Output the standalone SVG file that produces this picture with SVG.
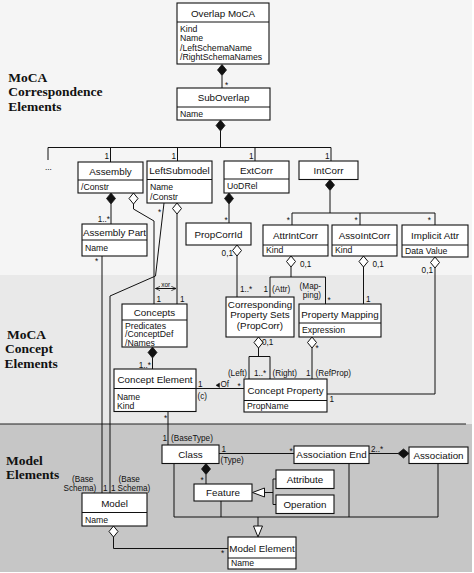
<svg xmlns="http://www.w3.org/2000/svg" width="474" height="573" viewBox="0 0 474 573">
<style>
.box{fill:#fff;stroke:#111;stroke-width:1.1}
.ln{fill:none;stroke:#111;stroke-width:1}
.t{font-family:"Liberation Sans",Arial,sans-serif;font-size:9.8px;fill:#111;text-anchor:middle}
.a{font-family:"Liberation Sans",Arial,sans-serif;font-size:8.7px;fill:#111}
.l{font-family:"Liberation Sans",Arial,sans-serif;font-size:8.2px;fill:#111}
.e{text-anchor:end}
.sec{font-family:"Liberation Serif","Times New Roman",serif;font-size:13.5px;font-weight:bold;fill:#111}
.fd{fill:#111;stroke:#111;stroke-width:0.8}
.hd{fill:#fff;stroke:#111;stroke-width:1}
</style>
<defs>
<marker id="oa" viewBox="0 0 8 8" refX="7.5" refY="4" markerWidth="5" markerHeight="5" orient="auto-start-reverse"><path d="M0,0.5 L7.5,4 L0,7.5" fill="none" stroke="#111" stroke-width="1.2"/></marker>
</defs>
<g id="background">
<rect x="0" y="0" width="474" height="573" fill="#fff"/>
<rect x="0" y="0" width="472" height="275" fill="#f5f5f5"/>
<rect x="0" y="275" width="472" height="149" fill="#e9e9e9"/>
<rect x="0" y="424" width="472" height="148" fill="#c6c6c6"/>
<line x1="0" y1="424" x2="466" y2="424" stroke="#222" stroke-width="1.2"/>
<text class="sec" x="8.3" y="81.5">MoCA</text>
<text class="sec" x="8.3" y="96">Correspondence</text>
<text class="sec" x="8.3" y="110.5">Elements</text>
<text class="sec" x="7" y="339">MoCA</text>
<text class="sec" x="5" y="353.3">Concept</text>
<text class="sec" x="4.5" y="367.6">Elements</text>
<text class="sec" x="6" y="464.5">Model</text>
<text class="sec" x="6" y="479">Elements</text>
</g>
<g id="connectors">
<path class="ln" d="M222,75.5 V88"/>
<path class="fd" d="M222,64.5 l4.5,5.5 l-4.5,5.5 l-4.5,-5.5z"/>
<text class="l" x="225" y="88">*</text>
<path class="ln" d="M220.5,131 V147.5 M48,147.5 H331 M48,147.5 V160 M110.5,147.5 V162 M177.5,147.5 V161 M255,147.5 V161 M331,147.5 V161"/>
<path class="fd" d="M220.5,120 l4.5,5.5 l-4.5,5.5 l-4.5,-5.5z"/>
<text class="l e" x="109" y="158.5">1</text>
<text class="l e" x="176" y="158.5">1</text>
<text class="l e" x="253.5" y="158.5">1</text>
<text class="l e" x="329.5" y="158.5">1</text>
<text class="l" x="45" y="170">...</text>
<path class="ln" d="M111,204 V224"/>
<path class="fd" d="M111,193 l4.5,5.5 l-4.5,5.5 l-4.5,-5.5z"/>
<text class="l e" x="110" y="221.5">1..*</text>
<path class="ln" d="M133.5,204 V209 L154,221 V304"/>
<path class="hd" d="M133.5,193 l4.5,5.5 l-4.5,5.5 l-4.5,-5.5z"/>
<text class="l" x="156.5" y="302">1</text>
<path class="ln" d="M177,214 V304"/>
<path class="hd" d="M177,203 l4.5,5.5 l-4.5,5.5 l-4.5,-5.5z"/>
<text class="l" x="180" y="302">1</text>
<path class="ln" d="M155.5,288.5 H176" marker-start="url(#oa)" marker-end="url(#oa)"/>
<text class="l" x="165.7" y="286.5" style="font-size:6.5px;text-anchor:middle">xor</text>
<path class="ln" d="M164,203 L155.5,276 L110,296 V493"/>
<text class="l" x="158" y="214.5">*</text>
<path class="ln" d="M102,256 V493"/>
<text class="l" x="95" y="263.5">*</text>
<path class="ln" d="M229,204 V223"/>
<path class="fd" d="M229,193 l4.5,5.5 l-4.5,5.5 l-4.5,-5.5z"/>
<text class="l" x="224.5" y="222.5">*</text>
<path class="ln" d="M237,256 V297"/>
<path class="hd" d="M237,245 l4.5,5.5 l-4.5,5.5 l-4.5,-5.5z"/>
<text class="l e" x="233" y="256">0,1</text>
<text class="l" x="240" y="292">1..*</text>
<path class="ln" d="M330,190.5 V213 M292,213 H435 M292,213 V225 M360,213 V225 M435,213 V225"/>
<path class="fd" d="M330,179.5 l4.5,5.5 l-4.5,5.5 l-4.5,-5.5z"/>
<text class="l" x="286.8" y="222.8">*</text>
<text class="l" x="354.5" y="222.8">*</text>
<text class="l" x="427.8" y="222.8">*</text>
<path class="ln" d="M291,267 V277 M270,297 V277 H325.5 V304"/>
<path class="hd" d="M291,256 l4.5,5.5 l-4.5,5.5 l-4.5,-5.5z"/>
<text class="l" x="300" y="266.5">0,1</text>
<text class="l e" x="268" y="292">1</text>
<text class="l" x="272" y="292">(Attr)</text>
<text class="l e" x="321" y="289">(Map-</text>
<text class="l e" x="321" y="297.5">ping)</text>
<text class="l" x="327.5" y="302.5">*</text>
<path class="ln" d="M363.5,267 V304"/>
<path class="hd" d="M363.5,256 l4.5,5.5 l-4.5,5.5 l-4.5,-5.5z"/>
<text class="l" x="372.5" y="266.5">0,1</text>
<text class="l" x="366" y="302">1</text>
<path class="ln" d="M435,268 V394 H327"/>
<path class="hd" d="M435,257 l4.5,5.5 l-4.5,5.5 l-4.5,-5.5z"/>
<text class="l e" x="433" y="273">0,1</text>
<text class="l" x="329.5" y="401.5">1</text>
<path class="ln" d="M258.5,348 V356.5 M249,379 V356.5 H270 V379"/>
<path class="hd" d="M258.5,337 l4.5,5.5 l-4.5,5.5 l-4.5,-5.5z"/>
<text class="l" x="262" y="345">0,1</text>
<text class="l e" x="247" y="375.5">(Left)</text>
<text class="l" x="254" y="375.5">1..*</text>
<text class="l" x="272.5" y="375.5">(Right)</text>
<path class="ln" d="M312,348 V379"/>
<path class="hd" d="M312,337 l4.5,5.5 l-4.5,5.5 l-4.5,-5.5z"/>
<text class="l" x="315.5" y="351">*</text>
<text class="l e" x="310.5" y="376">1</text>
<text class="l" x="315.5" y="376">(RefProp)</text>
<path class="ln" d="M196,388.5 H244"/>
<text class="l" x="198" y="386.5">1</text>
<text class="l" x="197.5" y="398.5">(c)</text>
<path class="fd" d="M216,385.3 l3.5,-2.2 v4.4z" style="stroke-width:0.5"/>
<text class="l" x="220.5" y="387.3">Of</text>
<text class="l" x="237.5" y="389">*</text>
<path class="ln" d="M152.5,358 V369"/>
<path class="fd" d="M152.5,347 l4.5,5.5 l-4.5,5.5 l-4.5,-5.5z"/>
<text class="l e" x="151" y="368">1..*</text>
<path class="ln" d="M168,411.5 V445"/>
<text class="l" x="164" y="420.5">*</text>
<text class="l e" x="167" y="441">1</text>
<text class="l" x="171" y="440.5">(BaseType)</text>
<path class="ln" d="M219,453.5 H294"/>
<text class="l" x="221.5" y="451.5">1</text>
<text class="l" x="220.5" y="463">(Type)</text>
<text class="l" x="289.5" y="454">*</text>
<path class="ln" d="M369,453.5 H398"/>
<path class="fd" d="M398,453.5 l5.5,-4.5 l5.5,4.5 l-5.5,4.5z"/>
<text class="l" x="371" y="451.5">2..*</text>
<path class="ln" d="M206,474.5 V484"/>
<path class="fd" d="M206,463.5 l4.5,5.5 l-4.5,5.5 l-4.5,-5.5z"/>
<text class="l" x="200.5" y="483">*</text>
<path class="ln" d="M264.5,492.5 H273 M276,479 H273 V504.5 H276"/>
<path class="hd" d="M252.5,492.5 L264.5,488 L264.5,497 Z"/>
<path class="ln" d="M174,463.5 V517 H438 V463.5 M221,501 V517 M349,463.5 V517 M258,517 V526"/>
<path class="hd" d="M253.5,526 H262.5 L258,537 Z"/>
<path class="ln" d="M113.5,537 V548.5 H228"/>
<path class="hd" d="M113.5,526 l4.5,5.5 l-4.5,5.5 l-4.5,-5.5z"/>
<text class="l" x="221" y="556">*</text>
<text class="l" x="72" y="482">(Base</text>
<text class="l" x="63.5" y="490.5">Schema)</text>
<text class="l" x="103" y="491">1</text>
<text class="l" x="111" y="491">1</text>
<text class="l" x="118.5" y="482">(Base</text>
<text class="l" x="117.5" y="490.5">Schema)</text>
</g>
<g id="overlap-moca">
<rect class="box" x="177" y="3" width="92" height="61"/>
<line class="ln" x1="177" y1="22" x2="269" y2="22"/>
<text class="t" x="223" y="16.5">Overlap MoCA</text>
<text class="a" x="180" y="31.5">Kind</text>
<text class="a" x="180" y="41">Name</text>
<text class="a" x="180" y="50.5">/LeftSchemaName</text>
<text class="a" x="180" y="60">/RightSchemaNames</text>
</g>
<g id="suboverlap">
<rect class="box" x="177" y="88" width="93" height="32"/>
<line class="ln" x1="177" y1="107" x2="270" y2="107"/>
<text class="t" x="223.5" y="101">SubOverlap</text>
<text class="a" x="180" y="116.5">Name</text>
</g>
<g id="assembly">
<rect class="box" x="78" y="162" width="65" height="31"/>
<line class="ln" x1="78" y1="180" x2="143" y2="180"/>
<text class="t" x="110.5" y="174.5">Assembly</text>
<text class="a" x="81" y="189.5">/Constr</text>
</g>
<g id="leftsubmodel">
<rect class="box" x="147" y="161" width="65" height="42"/>
<line class="ln" x1="147" y1="179.5" x2="212" y2="179.5"/>
<text class="t" x="179.5" y="174">LeftSubmodel</text>
<text class="a" x="150" y="190">Name</text>
<text class="a" x="150" y="199.5">/Constr</text>
</g>
<g id="extcorr">
<rect class="box" x="224" y="161" width="65" height="32"/>
<line class="ln" x1="224" y1="179" x2="289" y2="179"/>
<text class="t" x="256.5" y="173.5">ExtCorr</text>
<text class="a" x="227" y="189">UoDRel</text>
</g>
<g id="intcorr">
<rect class="box" x="299" y="161" width="59" height="18.5"/>
<text class="t" x="328.5" y="173.5">IntCorr</text>
</g>
<g id="attrintcorr">
<rect class="box" x="263" y="225" width="65" height="31"/>
<line class="ln" x1="263" y1="245" x2="328" y2="245"/>
<text class="t" x="295.5" y="238.5">AttrIntCorr</text>
<text class="a" x="266" y="253">Kind</text>
</g>
<g id="assointcorr">
<rect class="box" x="332" y="225" width="65" height="31"/>
<line class="ln" x1="332" y1="245" x2="397" y2="245"/>
<text class="t" x="364.5" y="238.5">AssoIntCorr</text>
<text class="a" x="335" y="253">Kind</text>
</g>
<g id="implicit-attr">
<rect class="box" x="402" y="225" width="66" height="32"/>
<line class="ln" x1="402" y1="245" x2="468" y2="245"/>
<text class="t" x="435" y="238.5">Implicit Attr</text>
<text class="a" x="405" y="253.5">Data Value</text>
</g>
<g id="assembly-part">
<rect class="box" x="82" y="224" width="65" height="32"/>
<line class="ln" x1="82" y1="240" x2="147" y2="240"/>
<text class="t" x="114.5" y="235.5">Assembly Part</text>
<text class="a" x="85" y="251">Name</text>
</g>
<g id="propcorrid">
<rect class="box" x="186" y="223" width="65" height="22"/>
<text class="t" x="218.5" y="237.5">PropCorrId</text>
</g>
<g id="concepts">
<rect class="box" x="122" y="304" width="65" height="43"/>
<line class="ln" x1="122" y1="320" x2="187" y2="320"/>
<text class="t" x="154.5" y="315.5">Concepts</text>
<text class="a" x="125" y="328.5">Predicates</text>
<text class="a" x="125" y="337">/ConceptDef</text>
<text class="a" x="125" y="345.5">/Names</text>
</g>
<g id="concept-element">
<rect class="box" x="114" y="369" width="82" height="42.5"/>
<line class="ln" x1="114" y1="388.5" x2="196" y2="388.5"/>
<text class="t" x="155" y="383">Concept Element</text>
<text class="a" x="117" y="400">Name</text>
<text class="a" x="117" y="409">Kind</text>
</g>
<g id="corresponding-property-sets">
<rect class="box" x="226" y="297" width="68" height="40"/>
<text class="t" x="260" y="307.5">Corresponding</text>
<text class="t" x="260" y="318">Property Sets</text>
<text class="t" x="260" y="328.5">(PropCorr)</text>
</g>
<g id="property-mapping">
<rect class="box" x="299" y="304" width="82" height="33"/>
<line class="ln" x1="299" y1="323" x2="381" y2="323"/>
<text class="t" x="340" y="317.5">Property Mapping</text>
<text class="a" x="302" y="333">Expression</text>
</g>
<g id="concept-property">
<rect class="box" x="244" y="379" width="83" height="33"/>
<line class="ln" x1="244" y1="400.5" x2="327" y2="400.5"/>
<text class="t" x="285.5" y="393.5">Concept Property</text>
<text class="a" x="247" y="409">PropName</text>
</g>
<g id="class">
<rect class="box" x="162" y="445" width="57" height="18.5"/>
<text class="t" x="190.5" y="457.5">Class</text>
</g>
<g id="feature">
<rect class="box" x="194" y="484" width="58" height="17"/>
<text class="t" x="223" y="496">Feature</text>
</g>
<g id="attribute">
<rect class="box" x="276" y="470" width="58" height="18.5"/>
<text class="t" x="305" y="482.5">Attribute</text>
</g>
<g id="operation">
<rect class="box" x="276" y="495" width="58" height="18.5"/>
<text class="t" x="305" y="507.5">Operation</text>
</g>
<g id="association-end">
<rect class="box" x="294" y="446" width="75" height="17.5"/>
<text class="t" x="331.5" y="458">Association End</text>
</g>
<g id="association">
<rect class="box" x="409" y="447" width="59" height="16.5"/>
<text class="t" x="438.5" y="458.5">Association</text>
</g>
<g id="model">
<rect class="box" x="82" y="493" width="65" height="33"/>
<line class="ln" x1="82" y1="512.5" x2="147" y2="512.5"/>
<text class="t" x="114.5" y="506.5">Model</text>
<text class="a" x="85" y="523">Name</text>
</g>
<g id="model-element">
<rect class="box" x="228" y="537" width="68" height="32"/>
<line class="ln" x1="228" y1="558" x2="296" y2="558"/>
<text class="t" x="262" y="551.5">Model Element</text>
<text class="a" x="231" y="566">Name</text>
</g>
</svg>
